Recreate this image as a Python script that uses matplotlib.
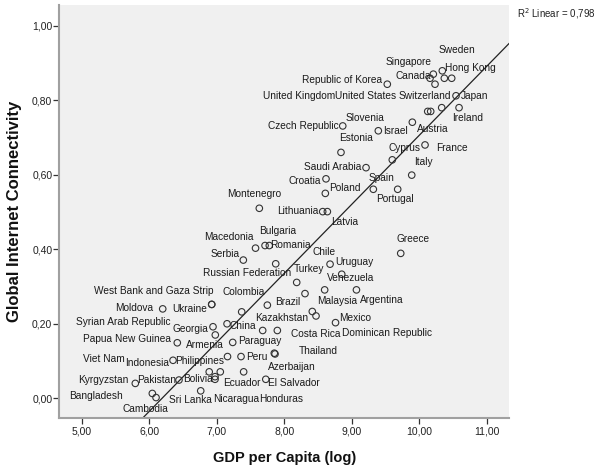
import numpy as np
import matplotlib
matplotlib.use("Agg")
import matplotlib.pyplot as plt

plt.rcParams['font.family'] = ['Liberation Sans', 'DejaVu Sans']

# ---- data ----
countries = [
    "Singapore", "Sweden", "Canada", "Slovenia", "Hong Kong", "",
    "Republic of Korea", "Japan", "Switzerland", "Ireland", "United Kingdom",
    "United States", "Austria", "Israel", "Czech Republic", "Estonia", "France",
    "Cyprus", "Italy", "Saudi Arabia", "Croatia", "Poland", "Spain", "Portugal",
    "Montenegro", "Lithuania", "Latvia", "Macedonia", "Bulgaria", "Romania",
    "Serbia", "Russian Federation", "Greece", "Uruguay", "Venezuela", "Turkey",
    "Chile", "Malaysia", "Argentina", "Ukraine", "West Bank and Gaza Strip",
    "Moldova", "Colombia", "Brazil", "Dominican Republic", "Kazakhstan", "Mexico",
    "Georgia", "Armenia", "China", "Syrian Arab Republic", "Costa Rica",
    "Papua New Guinea", "Paraguay", "Philippines", "Peru", "Thailand",
    "Azerbaijan", "Indonesia", "Viet Nam", "Nicaragua", "Honduras", "Bolivia",
    "Ecuador", "El Salvador", "Pakistan", "Kyrgyzstan", "Bangladesh", "Cambodia",
    "Sri Lanka",
]
gdp_log = [
    10.209, 10.342, 10.160, 10.234, 10.372, 10.481,
    9.527, 10.545, 10.333, 10.590, 10.126,
    10.170, 9.898, 9.394, 8.867, 8.841, 10.086,
    9.601, 9.889, 9.212, 8.619, 8.609, 9.320, 9.681,
    7.631, 8.570, 8.639, 7.575, 7.716, 7.779,
    7.394, 7.874, 9.726, 8.679, 8.852, 8.185,
    8.308, 8.599, 9.070, 6.926, 6.926,
    6.200, 7.370, 7.750, 8.416, 8.471, 8.760,
    6.945, 6.979, 7.153, 7.681, 7.898,
    6.416, 7.237, 7.160, 7.360, 7.853,
    7.864, 6.353, 6.889, 7.053, 6.975, 6.975,
    7.399, 7.727, 6.441, 5.794, 6.046, 6.101,
    6.763,
]
connectivity = [
    0.870, 0.879, 0.859, 0.843, 0.859, 0.859,
    0.843, 0.812, 0.780, 0.780, 0.770,
    0.770, 0.741, 0.718, 0.731, 0.660, 0.680,
    0.640, 0.599, 0.619, 0.589, 0.550, 0.561, 0.561,
    0.510, 0.501, 0.501, 0.403, 0.410, 0.410,
    0.371, 0.361, 0.389, 0.360, 0.333, 0.311,
    0.281, 0.291, 0.291, 0.252, 0.252,
    0.240, 0.232, 0.250, 0.233, 0.221, 0.203,
    0.192, 0.170, 0.200, 0.182, 0.182,
    0.149, 0.150, 0.112, 0.112, 0.121,
    0.119, 0.102, 0.071, 0.071, 0.058, 0.051,
    0.071, 0.051, 0.049, 0.040, 0.013, 0.002,
    0.020,
]
r2_text = "R$^2$ Linear = 0,798"
x_ticks = [5, 6, 7, 8, 9, 10, 11]
y_ticks = [0.0, 0.2, 0.4, 0.6, 0.8, 1.0]

# ---- label placement (pixel offsets from each point: dx right, dy down) ----
label_offsets = [
    (-25.0, -12.3), (14.4, -20.7), (-16.7, -2.6), (-69.7, 34.0), (25.7, -10.6), (0, 0),
    (-45.6, -4.3), (18.7, 0.0), (-16.7, -12.0), (8.2, 10.6), (-129.0, -15.6),
    (-65.5, -15.6), (20.4, 6.8), (16.7, 0.0), (-39.4, 0.0), (15.0, -14.0), (27.0, 3.3),
    (12.4, -12.3), (11.8, -12.7), (-33.3, -1.0), (-21.3, 2.3), (19.2, -5.0), (8.0, -11.6), (-3.0, 10.0),
    (-5.5, -14.0), (-25.2, -0.7), (17.4, 10.0), (-26.5, -11.3), (12.7, -14.8), (21.5, -0.5),
    (-18.0, -5.7), (-28.2, 9.6), (12.0, -14.0), (24.2, -2.5), (8.8, 3.4), (12.1, -13.2),
    (19.2, -42.0), (12.4, 10.7), (25.3, 10.0), (-21.7, 4.7), (-58.4, -13.3),
    (-28.9, -1.3), (2.0, -19.7), (20.5, -3.6), (74.5, 22.0), (-34.8, 1.9), (19.5, -4.4),
    (-22.2, 2.3), (-10.3, 10.0), (15.8, 2.3), (-139.7, -8.2), (38.6, 3.5),
    (-50.1, -3.4), (26.8, -1.8), (-28.2, 4.0), (15.7, 0.0), (44.4, -2.3),
    (16.7, 12.7), (-25.5, 3.0), (-105.0, -12.7), (15.7, 27.0), (66.3, 22.3), (-16.7, 0.0),
    (-1.6, 11.3), (28.5, 4.0), (-22.3, 0.0), (-31.5, -3.3), (-56.5, 2.4), (-11.0, 11.6),
    (-10.2, 9.3),
]

W, H = 595, 471
fig = plt.figure(figsize=(W / 100, H / 100), dpi=100)
left_px, right_px, top_px, bottom_px = 59.3, 509.0, 5.0, 418.3
ax = fig.add_axes([left_px / W, 1 - bottom_px / H,
                   (right_px - left_px) / W, (bottom_px - top_px) / H])
ax.set_facecolor('#f0f0f0')
ax.set_xlim(4.668, 11.33)
ax.set_ylim(-0.0537, 1.0556)

x = np.array(gdp_log)
y = np.array(connectivity)

# regression line
slope, intercept = np.polyfit(x, y, 1)
xl = np.array(ax.get_xlim())
ax.plot(xl, slope * xl + intercept, color='#222222', lw=0.9, zorder=2)

ax.scatter(x, y, s=22, facecolors='none', edgecolors='#333333',
           linewidths=0.8, zorder=3)

for name, xi, yi, (dx, dy) in zip(countries, x, y, label_offsets):
    if not name:
        continue
    ax.annotate(name, (xi, yi), xytext=(dx, -dy), textcoords='offset pixels',
                ha='center', va='center', fontsize=7.3, color='#1a1a1a', zorder=4)

for s in ['top', 'right']:
    ax.spines[s].set_visible(False)
for s in ['left', 'bottom']:
    ax.spines[s].set_color('#a0a0a0')
    ax.spines[s].set_linewidth(1.5)

ax.set_xticks(x_ticks)
ax.set_yticks(y_ticks)
ax.set_xticklabels([f"{v:.2f}".replace('.', ',') for v in x_ticks])
ax.set_yticklabels([f"{v:.2f}".replace('.', ',') for v in y_ticks])
ax.tick_params(axis='both', direction='out', length=4, width=0.9,
               color='#333333', labelsize=7.5, labelcolor='#222222')
ax.tick_params(axis='y', pad=1)
ax.tick_params(axis='x', pad=2)

ax.set_xlabel("GDP per Capita (log)", fontsize=10.5, fontweight='bold',
              color='#111111', labelpad=10)
ax.set_ylabel("Global Internet Connectivity", fontsize=12, fontweight='bold',
              color='#111111', labelpad=7)

fig.text(517 / W, 1 - 14 / H, r2_text, fontsize=7.0, ha='left', va='center',
         color='#222222')

fig.savefig("out.png", dpi=100, facecolor='white')
